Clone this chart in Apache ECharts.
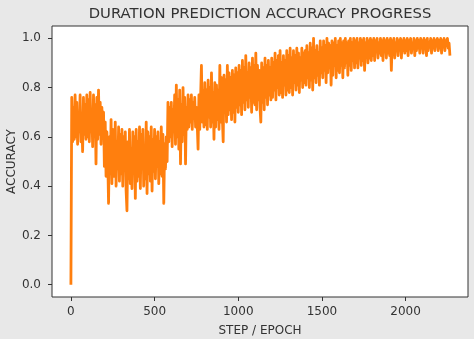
<!DOCTYPE html>
<html>
<head>
<meta charset="utf-8">
<script src="https://cdn.jsdelivr.net/npm/echarts@6/dist/echarts.min.js"></script>
<style>
  html, body { margin: 0; padding: 0; background: #e8e8e8; }
  #chart { width: 474px; height: 339px; }
</style>
</head>
<body>
<div id="chart"></div>
<script>
// ---- data ----
const chartTitle = "DURATION PREDICTION ACCURACY PROGRESS";
const xAxisName = "STEP / EPOCH";
const yAxisName = "ACCURACY";
const xTickValues = [0, 500, 1000, 1500, 2000];
const yTickValues = [0.0, 0.2, 0.4, 0.6, 0.8, 1.0];
const stepSize = 5; // one reading every 5 steps

const accuracy = [
  // 0-95
  0.00, 0.76, 0.58, 0.72, 0.59, 0.77, 0.60, 0.74, 0.57, 0.70, 0.62, 0.77, 0.58, 0.68, 0.54, 0.76, 0.61, 0.73, 0.59, 0.77,
  // 100-195
  0.60, 0.75, 0.58, 0.78, 0.62, 0.70, 0.56, 0.77, 0.60, 0.73, 0.49, 0.76, 0.59, 0.79, 0.61, 0.74, 0.57, 0.72, 0.63, 0.70,
  // 200-295
  0.48, 0.66, 0.44, 0.62, 0.52, 0.33, 0.60, 0.45, 0.67, 0.41, 0.63, 0.50, 0.44, 0.66, 0.40, 0.58, 0.47, 0.64, 0.42, 0.61,
  // 300-395
  0.45, 0.63, 0.40, 0.60, 0.48, 0.62, 0.38, 0.30, 0.58, 0.43, 0.63, 0.41, 0.55, 0.39, 0.62, 0.46, 0.60, 0.35, 0.63, 0.42,
  // 400-495
  0.58, 0.44, 0.64, 0.39, 0.61, 0.47, 0.63, 0.40, 0.56, 0.43, 0.66, 0.37, 0.62, 0.45, 0.60, 0.42, 0.64, 0.38, 0.59, 0.46,
  // 500-575
  0.63, 0.43, 0.60, 0.48, 0.62, 0.41, 0.58, 0.45, 0.64, 0.44, 0.61, 0.33, 0.57, 0.47, 0.60, 0.50,
  // 580-695
  0.74, 0.58, 0.72, 0.60, 0.74, 0.56, 0.71, 0.62, 0.77, 0.57, 0.81, 0.60, 0.75, 0.55, 0.79, 0.49, 0.73, 0.58, 0.80, 0.61, 0.76, 0.49, 0.72, 0.63,
  // 700-795
  0.77, 0.64, 0.75, 0.66, 0.77, 0.63, 0.74, 0.68, 0.76, 0.64, 0.72, 0.65, 0.55, 0.77, 0.63, 0.76, 0.89, 0.66, 0.79, 0.64,
  // 800-895
  0.82, 0.65, 0.79, 0.63, 0.83, 0.68, 0.80, 0.64, 0.86, 0.66, 0.78, 0.59, 0.82, 0.64, 0.81, 0.67, 0.79, 0.63, 0.89, 0.66,
  // 900-995
  0.84, 0.68, 0.58, 0.85, 0.70, 0.83, 0.66, 0.89, 0.69, 0.86, 0.71, 0.84, 0.67, 0.87, 0.70, 0.85, 0.66, 0.88, 0.72, 0.86,
  // 1000-1095
  0.70, 0.89, 0.73, 0.87, 0.69, 0.91, 0.74, 0.88, 0.71, 0.93, 0.75, 0.86, 0.72, 0.90, 0.76, 0.88, 0.70, 0.92, 0.74, 0.89,
  // 1100-1195
  0.73, 0.94, 0.71, 0.89, 0.75, 0.87, 0.72, 0.66, 0.90, 0.74, 0.88, 0.71, 0.92, 0.76, 0.89, 0.73, 0.91, 0.77, 0.88, 0.75,
  // 1200-1295
  0.92, 0.76, 0.90, 0.79, 0.94, 0.75, 0.91, 0.80, 0.93, 0.77, 0.95, 0.78, 0.90, 0.76, 0.93, 0.81, 0.91, 0.77, 0.95, 0.79,
  // 1300-1395
  0.93, 0.78, 0.96, 0.80, 0.92, 0.77, 0.95, 0.82, 0.93, 0.79, 0.96, 0.81, 0.94, 0.78, 0.92, 0.83, 0.96, 0.80, 0.94, 0.82,
  // 1400-1495
  0.95, 0.81, 0.97, 0.84, 0.94, 0.80, 0.98, 0.83, 0.96, 0.79, 1.00, 0.84, 0.95, 0.82, 0.97, 0.85, 0.94, 0.81, 0.99, 0.86,
  // 1500-1595
  0.96, 0.84, 0.99, 0.87, 0.97, 0.82, 1.00, 0.86, 0.98, 0.88, 0.97, 0.81, 0.99, 0.85, 0.98, 0.89, 1.00, 0.84, 0.97, 0.87,
  // 1600-1695
  0.99, 0.86, 1.00, 0.89, 0.98, 0.84, 0.99, 0.88, 1.00, 0.90, 0.98, 0.85, 0.99, 0.89, 1.00, 0.87, 0.98, 0.91, 1.00, 0.88,
  // 1700-1795
  0.99, 0.90, 1.00, 0.88, 0.98, 0.92, 1.00, 0.89, 0.99, 0.91, 1.00, 0.87, 0.98, 0.93, 1.00, 0.90, 0.99, 0.92, 1.00, 0.91,
  // 1800-1895
  0.99, 0.93, 1.00, 0.91, 0.99, 0.95, 1.00, 0.92, 0.98, 0.94, 1.00, 0.93, 0.99, 0.91, 1.00, 0.95, 0.99, 0.92, 1.00, 0.94,
  // 1900-1995
  0.99, 0.93, 1.00, 0.87, 0.99, 0.94, 1.00, 0.92, 0.98, 0.95, 1.00, 0.93, 0.99, 0.96, 1.00, 0.92, 0.99, 0.95, 1.00, 0.94,
  // 2000-2095
  0.99, 0.95, 1.00, 0.93, 0.99, 0.96, 1.00, 0.94, 0.98, 0.96, 1.00, 0.93, 0.99, 0.95, 1.00, 0.96, 0.99, 0.94, 1.00, 0.96,
  // 2100-2195
  0.99, 0.94, 1.00, 0.96, 0.99, 0.93, 1.00, 0.95, 0.98, 0.97, 1.00, 0.94, 0.99, 0.96, 1.00, 0.95, 0.99, 0.97, 1.00, 0.95,
  // 2200-2265
  0.99, 0.96, 1.00, 0.94, 0.99, 0.97, 1.00, 0.95, 0.99, 0.97, 1.00, 0.96, 0.98, 0.93
];

// ---- chart ----
const seriesData = accuracy.map((v, i) => [i * stepSize, v]);
const FONT = "DejaVu Sans";
const TXT = "#333333";

const chart = echarts.init(document.getElementById('chart'), null, { renderer: 'canvas' });
chart.setOption({
  animation: false,
  backgroundColor: '#e8e8e8',
  title: {
    text: chartTitle,
    left: 260,
    top: 14,
    textAlign: 'center',
    textVerticalAlign: 'middle',
    padding: 0,
    textStyle: { fontFamily: FONT, fontSize: 14.8, fontWeight: 'normal', color: TXT }
  },
  grid: {
    left: 52, right: 6, top: 26, bottom: 42,
    show: true, backgroundColor: '#ffffff', borderColor: '#333333', borderWidth: 1,
    containLabel: false,
    outerBoundsMode: 'none'
  },
  xAxis: {
    type: 'value',
    min: -113, max: 2373,
    name: xAxisName,
    nameLocation: 'middle',
    nameGap: 28,
    nameTextStyle: { fontFamily: FONT, fontSize: 12, color: TXT },
    axisLine: { show: false, onZero: false },
    axisTick: { show: true, length: 4, inside: false, customValues: xTickValues, lineStyle: { color: '#333333' } },
    axisLabel: { customValues: xTickValues, margin: 9, fontFamily: FONT, fontSize: 12, color: TXT,
                 formatter: v => String(v) },
    splitLine: { show: false }
  },
  yAxis: {
    type: 'value',
    min: -0.05, max: 1.05,
    name: yAxisName,
    nameLocation: 'middle',
    nameRotate: 90,
    nameGap: 34,
    nameMoveOverlap: false,
    nameTextStyle: { fontFamily: FONT, fontSize: 12, color: TXT },
    axisLine: { show: false, onZero: false },
    axisTick: { show: true, length: 4, inside: false, customValues: yTickValues, lineStyle: { color: '#333333' } },
    axisLabel: { customValues: yTickValues, margin: 11, fontFamily: FONT, fontSize: 12, color: TXT,
                 formatter: v => Number(v).toFixed(1) },
    splitLine: { show: false }
  },
  series: [{
    type: 'line',
    data: seriesData,
    showSymbol: false,
    symbol: 'none',
    sampling: null,
    lineStyle: { color: '#ff7f0e', width: 2.8, join: 'round' },
    emphasis: { disabled: true }
  }]
});
</script>
</body>
</html>
